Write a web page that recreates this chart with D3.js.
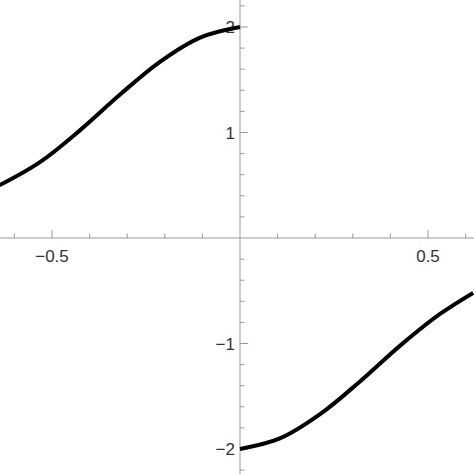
<!DOCTYPE html><html><head><script src="https://d3js.org/d3.v7.min.js"></script>
<style>body{margin:0;background:#fff}</style></head><body><svg width="474" height="474"></svg>
<script>
const leftX=[-0.64,-0.532,-0.426,-0.319,-0.213,-0.106,0];
const leftY=[0.5,0.72,1.02,1.36,1.67,1.9,2.0];
const rightX=[0,0.106,0.213,0.319,0.426,0.532,0.62];
const rightY=[-2.0,-1.9,-1.67,-1.36,-1.02,-0.72,-0.52];
const xMajor=[-0.5,0.5], xLabels=["\u22120.5","0.5"];
const yMajor=[-2,-1,1,2], yLabels=["\u22122","\u22121","1","2"];
const svg=d3.select("svg");
const x=d3.scaleLinear().domain([-0.5,0.5]).range([52,428]);
const y=d3.scaleLinear().domain([-2,2]).range([449,27]);
const g="#999";
svg.append("line").attr("x1",0).attr("x2",474).attr("y1",y(0)).attr("y2",y(0)).attr("stroke",g);
svg.append("line").attr("y1",0).attr("y2",474).attr("x1",x(0)).attr("x2",x(0)).attr("stroke",g);
for(let i=-6;i<=6;i++){if(i==0)continue;const v=i/10,maj=Math.abs(i)==5;
 svg.append("line").attr("x1",x(v)).attr("x2",x(v)).attr("y1",y(0)).attr("y2",y(0)-(maj?8:4.5)).attr("stroke",g);}
for(let i=-11;i<=11;i++){if(i==0)continue;const v=i/5,maj=i%5==0;
 svg.append("line").attr("y1",y(v)).attr("y2",y(v)).attr("x1",x(0)).attr("x2",x(0)+(maj?8:4.5)).attr("stroke",g);}
xMajor.forEach((v,i)=>svg.append("text").attr("x",x(v)).attr("y",y(0)+24).attr("text-anchor","middle").attr("font-family","Liberation Sans").attr("font-size",17).attr("fill","#333").text(xLabels[i]));
yMajor.forEach((v,i)=>svg.append("text").attr("x",x(0)-5).attr("y",y(v)+6).attr("text-anchor","end").attr("font-family","Liberation Sans").attr("font-size",17).attr("fill","#333").text(yLabels[i]));
const line=d3.line().x(d=>x(d[0])).y(d=>y(d[1])).curve(d3.curveCatmullRom.alpha(0.5));
[[leftX,leftY],[rightX,rightY]].forEach(([a,b])=>svg.append("path").attr("d",line(a.map((v,i)=>[v,b[i]]))).attr("fill","none").attr("stroke","#000").attr("stroke-width",4));
</script></body></html>
